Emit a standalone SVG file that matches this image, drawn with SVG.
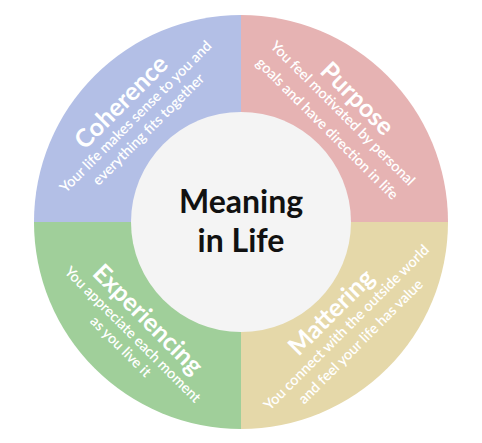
<svg xmlns="http://www.w3.org/2000/svg" width="482" height="443" viewBox="0 0 482 443">
<style>
.t{font-family:Lato,"Noto Sans","Liberation Sans",sans-serif;fill:#ffffff;text-anchor:middle}
.h{font-size:25px;font-weight:700}
.s{font-size:14.5px;font-weight:600}
.c{font-family:Lato,"Noto Sans","Liberation Sans",sans-serif;font-size:32px;font-weight:700;fill:#111111;text-anchor:middle}
</style>
<rect width="482" height="443" fill="#ffffff"/>
<g id="coherence">
<path d="M241,222 L34,222 A207,207 0 0 1 241,15 Z" fill="#b3bfe6"/>
<g transform="translate(241,222) rotate(-45)">
<text class="t h" x="0" y="-161">Coherence</text>
<text class="t s" x="0" y="-144">Your life makes sense to you and</text>
<text class="t s" x="0" y="-126">everything fits together</text>
</g>
</g>
<g id="purpose">
<path d="M241,222 L241,15 A207,207 0 0 1 448,222 Z" fill="#e6b3b3"/>
<g transform="translate(241,222) rotate(45)">
<text class="t h" x="-5" y="-161">Purpose</text>
<text class="t s" x="-5" y="-144">You feel motivated by personal</text>
<text class="t s" x="-5" y="-122">goals and have direction in life</text>
</g>
</g>
<g id="experiencing">
<path d="M241,222 L241,429 A207,207 0 0 1 34,222 Z" fill="#a0cf9a"/>
<g transform="translate(241,222) rotate(45)">
<text class="t h" x="3" y="143">Experiencing</text>
<text class="t s" x="3" y="161">You appreciate each moment</text>
<text class="t s" x="3" y="178">as you live it</text>
</g>
</g>
<g id="mattering">
<path d="M241,222 L448,222 A207,207 0 0 1 241,429 Z" fill="#e5d8a9"/>
<g transform="translate(241,222) rotate(-45)">
<text class="t h" x="0" y="136">Mattering</text>
<text class="t s" x="0" y="154">You connect with the outside world</text>
<text class="t s" x="0" y="174">and feel your life has value</text>
</g>
</g>
<g id="center">
<circle cx="241" cy="222" r="110" fill="#f4f4f4"/>
<text class="c" x="241" y="213">Meaning</text>
<text class="c" x="241" y="252">in Life</text>
</g>
</svg>
